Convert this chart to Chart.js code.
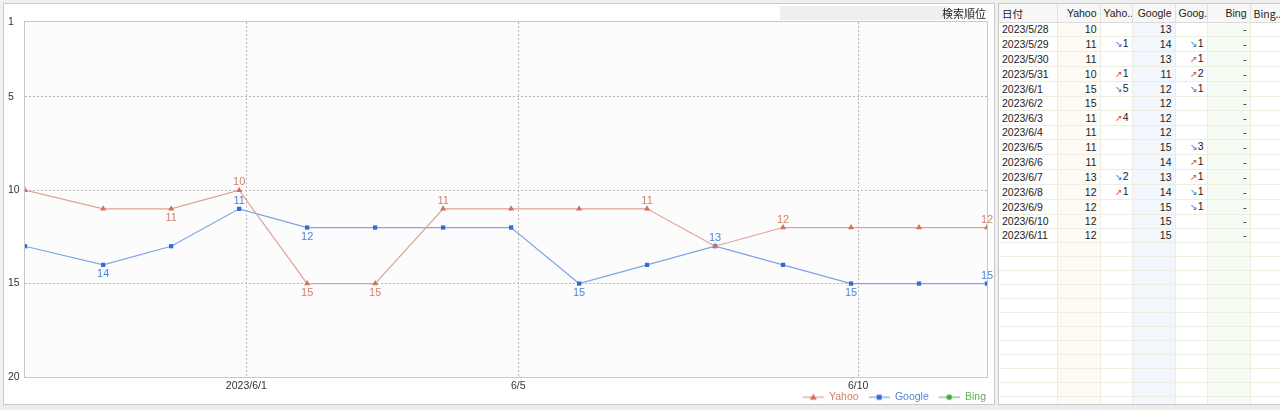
<!DOCTYPE html>
<html>
<head>
<meta charset="utf-8">
<script src="https://cdn.jsdelivr.net/npm/chart.js@4.4.0/dist/chart.umd.min.js"></script>
<style>
  body { margin: 0; width: 1280px; height: 410px; background: #f0f0f0; overflow: hidden;
         font-family: "Liberation Sans", "Noto Sans CJK JP", sans-serif; }
  #chartBox { position: absolute; left: 3px; top: 3px; width: 990px; height: 400px;
              background: #fff; border: 1px solid #c9c9c9; }
  #tableBox { position: absolute; left: 998px; top: 3px; width: 290px; height: 400px;
              background: #fff; border: 1px solid #c9c9c9; overflow: hidden; }
  table { border-collapse: collapse; font-size: 10.5px; color: #222; table-layout: fixed; width: 300px; }
  th { height: 18px; font-weight: normal; background: #f7f7f7; border-right: 1px solid #e2e2e2;
       border-bottom: 1px solid #dcdcdc; padding: 0 3px; text-align: right; white-space: nowrap; overflow: hidden; }
  th.d { text-align: left; font-family: "Noto Sans CJK JP"; }
  td { height: 13px; padding: 0 3px; border-right: 1px solid #eeede2; border-bottom: 1px solid #eeede2;
       text-align: right; white-space: nowrap; line-height: 13px; overflow: hidden; }
  td.d { text-align: left; }
  td.y { background: #fffaf4; }
  td.g { background: #f1f7fd; }
  td.b { background: #f6fbf3; }
  .up { color: #d24a36; font-size: 9px; font-family: "DejaVu Sans"; }
  .dn { color: #2f6fd8; font-size: 9px; font-family: "DejaVu Sans"; }
  #status { position: absolute; left: 0; top: 405px; width: 1280px; height: 5px; background: #ececec; }
</style>
</head>
<body>
<div id="chartBox"><canvas id="rankChart" width="990" height="400"></canvas></div>
<div id="tableBox"></div>
<div id="status"></div>

<script>
// ===== data =====
const dates = ['2023/5/28', '2023/5/29', '2023/5/30', '2023/5/31', '2023/6/1', '2023/6/2', '2023/6/3',
  '2023/6/4', '2023/6/5', '2023/6/6', '2023/6/7', '2023/6/8', '2023/6/9', '2023/6/10', '2023/6/11'];
// time of each check, in days after the first one (first check was earlier in the day)
const checkDays = [0, 1.15, 2.15, 3.15, 4.15, 5.15, 6.15, 7.15, 8.15, 9.15, 10.15, 11.15, 12.15, 13.15, 14.15];
const yahooRanks = [10, 11, 11, 10, 15, 15, 11, 11, 11, 11, 13, 12, 12, 12, 12];
const googleRanks = [13, 14, 13, 11, 12, 12, 12, 12, 15, 14, 13, 14, 15, 15, 15];
const bingRanks = [];

// midnight of 6/1, 6/5, 6/10 on the same day scale
const xTickValues = [3.255, 7.255, 12.255];
const xTickLabels = ['2023/6/1', '6/5', '6/10'];
const yTickValues = [1, 5, 10, 15, 20];

// which points get a value label, and on which side
const yahooLabelAt = { 2: 'below', 3: 'above', 4: 'below', 5: 'below', 6: 'above', 9: 'above', 11: 'above', 14: 'above' };
const googleLabelAt = { 1: 'below', 3: 'above', 4: 'below', 8: 'below', 10: 'above', 12: 'below', 14: 'above' };

const YAHOO = '#d3705c', YAHOO_LINE = '#e0a193';
const GOOGLE = '#2e6dd8', GOOGLE_LINE = '#7da5e2';
const BING = '#4aa844', BING_LINE = '#7cc476';
const FONT = '"Liberation Sans"';

// legend symbol: short line with marker, with some blank room on the left as item spacing
function legendIcon(lineColor, color, shape) {
  const c = document.createElement('canvas');
  c.width = 30; c.height = 8;
  const x = c.getContext('2d');
  x.strokeStyle = lineColor; x.lineWidth = 1.2;
  x.beginPath(); x.moveTo(9, 4); x.lineTo(30, 4); x.stroke();
  x.fillStyle = color;
  x.beginPath();
  if (shape === 'triangle') { x.moveTo(19.5, 0.5); x.lineTo(23, 6.5); x.lineTo(16, 6.5); x.closePath(); }
  else if (shape === 'rect') { x.rect(17, 1.5, 5, 5); }
  else { x.arc(19.5, 4, 2.8, 0, Math.PI * 2); }
  x.fill();
  return c;
}

const frame = {
  id: 'frame',
  beforeLayout(chart) {
    // keep the legend tight under the x labels
    const lg = chart.legend;
    if (lg && !lg._tight) {
      const fit = lg.fit;
      lg.fit = function () { fit.call(this); this.height = 13; };
      lg._tight = true;
    }
  },
  beforeDraw(chart) {
    const { ctx, chartArea: a } = chart;
    ctx.save();
    ctx.fillStyle = '#fcfcfd';
    ctx.fillRect(a.left, a.top, a.right - a.left, a.bottom - a.top);
    // title strip
    ctx.fillStyle = '#efefef';
    ctx.fillRect(776, 2, 168, 14);
    ctx.fillStyle = '#222';
    ctx.font = '11px "Noto Sans CJK JP"';
    ctx.textAlign = 'right';
    ctx.textBaseline = 'middle';
    ctx.fillText('検索順位', 982, 9.5);
    ctx.restore();
  },
  afterDraw(chart) {
    const { ctx, chartArea: a } = chart;
    ctx.save();
    ctx.strokeStyle = '#c8c8c8';
    ctx.lineWidth = 1;
    ctx.strokeRect(a.left - 0.5, a.top - 0.5, a.right - a.left + 1, a.bottom - a.top + 1);
    ctx.restore();
  }
};

const valueLabels = {
  id: 'valueLabels',
  afterDatasetsDraw(chart) {
    const ctx = chart.ctx;
    ctx.save();
    ctx.font = '11px ' + FONT;
    ctx.textAlign = 'center';
    ctx.textBaseline = 'middle';
    chart.data.datasets.forEach((ds, i) => {
      const where = ds.labelAt || {};
      const meta = chart.getDatasetMeta(i);
      ctx.fillStyle = ds.labelColor;
      Object.keys(where).forEach(k => {
        const pt = meta.data[k];
        if (!pt) return;
        const dy = where[k] === 'above' ? -8 : 9;
        ctx.fillText(String(ds.data[k].y), pt.x, pt.y + dy);
      });
    });
    ctx.restore();
  }
};

const toPoints = arr => arr.map((v, i) => ({ x: checkDays[i], y: v }));

new Chart(document.getElementById('rankChart').getContext('2d'), {
  type: 'line',
  data: {
    datasets: [{
      label: 'Yahoo',
      data: toPoints(yahooRanks),
      borderColor: YAHOO_LINE,
      backgroundColor: YAHOO,
      pointBackgroundColor: YAHOO,
      pointBorderWidth: 0,
      pointStyle: 'triangle',
      pointRadius: 3.5,
      borderWidth: 1.2,
      labelAt: yahooLabelAt,
      labelColor: '#d0806c',
      icon: legendIcon(YAHOO_LINE, YAHOO, 'triangle')
    }, {
      label: 'Google',
      data: toPoints(googleRanks),
      borderColor: GOOGLE_LINE,
      backgroundColor: GOOGLE,
      pointBackgroundColor: GOOGLE,
      pointBorderWidth: 0,
      pointStyle: 'rect',
      pointRadius: 3,
      borderWidth: 1.2,
      labelAt: googleLabelAt,
      labelColor: '#4d85d6',
      icon: legendIcon(GOOGLE_LINE, GOOGLE, 'rect')
    }, {
      label: 'Bing',
      data: toPoints(bingRanks),
      borderColor: BING_LINE,
      backgroundColor: BING,
      pointStyle: 'circle',
      pointRadius: 3,
      borderWidth: 1.2,
      labelColor: '#5cb356',
      icon: legendIcon(BING_LINE, BING, 'circle')
    }]
  },
  options: {
    responsive: false,
    animation: false,
    devicePixelRatio: 1,
    layout: { padding: { left: 4, top: 18, right: 7, bottom: 0 } },
    plugins: {
      legend: {
        position: 'bottom',
        align: 'end',
        labels: {
          usePointStyle: true,
          pointStyleWidth: 30,
          padding: 1,
          font: { size: 10.5, family: FONT },
          generateLabels(chart) {
            return chart.data.datasets.map((ds, i) => ({
              text: ds.label,
              fontColor: ds.labelColor,
              pointStyle: ds.icon,
              datasetIndex: i,
              hidden: false,
              lineWidth: 0
            }));
          }
        }
      },
      tooltip: { enabled: false }
    },
    scales: {
      x: {
        type: 'linear',
        min: checkDays[0],
        max: checkDays[checkDays.length - 1],
        afterBuildTicks: s => { s.ticks = xTickValues.map(v => ({ value: v })); },
        afterFit: s => { s.height = 14; },
        ticks: {
          color: '#333',
          font: { size: 10.5, family: FONT },
          padding: 3,
          maxRotation: 0,
          callback: (v, i) => xTickLabels[i]
        },
        grid: { color: '#b8b8b8', drawTicks: false },
        border: { display: false, dash: [2, 2] }
      },
      y: {
        type: 'linear',
        reverse: true,
        min: 1,
        max: 20,
        afterBuildTicks: s => { s.ticks = yTickValues.map(v => ({ value: v })); },
        afterFit: s => { s.width = 17; },
        ticks: {
          color: '#333',
          font: { size: 10.5, family: FONT },
          crossAlign: 'far',
          padding: 0
        },
        grid: {
          color: c => (c.tick && (c.tick.value === 1 || c.tick.value === 20)) ? 'rgba(0,0,0,0)' : '#b8b8b8',
          drawTicks: false
        },
        border: { display: false, dash: [2, 2] }
      }
    }
  },
  plugins: [frame, valueLabels]
});

// ===== table =====
function diffCell(arr, i) {
  if (i === 0) return '';
  const d = arr[i] - arr[i - 1];
  if (d > 0) return '<span class="dn">↘</span>' + d;
  if (d < 0) return '<span class="up">↗</span>' + (-d);
  return '';
}

let html = '<table><colgroup><col style="width:58px"><col style="width:43px"><col style="width:32px">' +
  '<col style="width:43px"><col style="width:32px"><col style="width:43px"><col style="width:49px"></colgroup>' +
  '<tr><th class="d">日付</th><th>Yahoo</th><th>Yaho..</th><th>Google</th><th>Goog..</th><th>Bing</th><th class="d">Bing..</th></tr>';
for (let i = 0; i < 27; i++) {
  if (i < dates.length) {
    html += '<tr><td class="d">' + dates[i] + '</td><td class="y">' + yahooRanks[i] + '</td><td>' + diffCell(yahooRanks, i) +
      '</td><td class="g">' + googleRanks[i] + '</td><td>' + diffCell(googleRanks, i) +
      '</td><td class="b">-</td><td></td></tr>';
  } else {
    html += '<tr><td class="d"></td><td class="y"></td><td></td><td class="g"></td><td></td><td class="b"></td><td></td></tr>';
  }
}
html += '</table>';
document.getElementById('tableBox').innerHTML = html;
</script>
</body>
</html>
